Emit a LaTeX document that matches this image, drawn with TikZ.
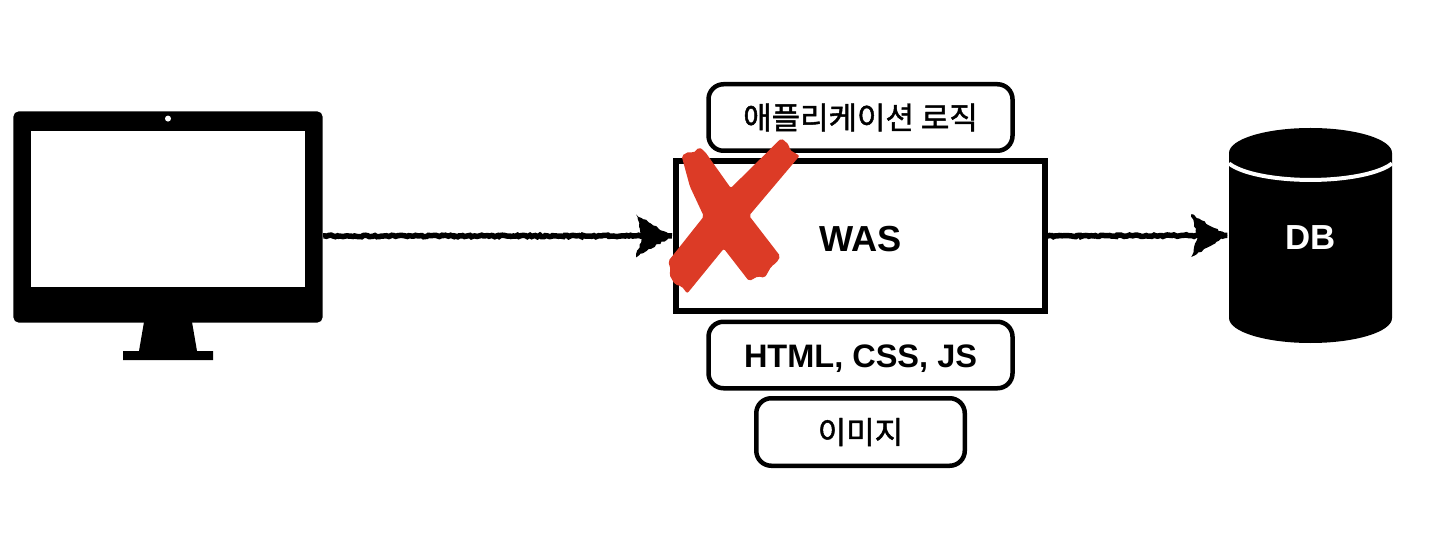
\documentclass[tikz,border=0pt]{standalone}
\usepackage{fontspec}
\setmainfont{Liberation Sans}
\newfontfamily\krfont[FakeBold=1.5]{Noto Sans CJK KR}
\usetikzlibrary{positioning}
\usetikzlibrary{calc}
\usetikzlibrary{decorations.pathmorphing}
\definecolor{red}{RGB}{220,59,38}
\tikzset{
	pill/.style={draw, line width=0.045cm, rounded corners=0.15cm, fill=white, align=center, inner sep=0pt, font=\krfont\fontsize{8.8}{10}\selectfont},
	pilllatin/.style={pill, font=\bfseries\fontsize{9.25}{10}\selectfont},
	roughline/.style={line width=0.055cm, decorate, decoration={random steps, segment length=0.02cm, amplitude=0.008cm}},
	roughhead/.pic={
		\fill[decorate, decoration={random steps, segment length=0.03cm, amplitude=0.01cm}]
			(0,0) -- (-0.36,0.215) -- (-0.30,0) -- (-0.36,-0.215) -- cycle;
	}
}

\begin{document}
\begin{tikzpicture}
	\useasboundingbox (0,0) rectangle (14.30,5.34);
	\pgfmathsetseed{7}

	% Monitor
	\fill (1.44,2.12) -- (1.92,2.12) -- (1.97,1.83) -- (2.13,1.83) -- (2.13,1.74) -- (1.23,1.74) -- (1.23,1.83) -- (1.39,1.83) -- cycle;
	\node[fill=black, rounded corners=0.05cm, minimum width=3.09cm, minimum height=2.11cm, inner sep=0pt] (monitor) at (1.68,3.17) {};
	\node[fill=white, minimum width=2.74cm, minimum height=1.56cm, inner sep=0pt] (screen) at (1.68,3.25) {};
	\node[fill=white, circle, minimum size=0.06cm, inner sep=0pt, above=0.08cm of screen] (camera) {};

	% WAS box
	\node[draw, line width=0.06cm, minimum width=3.685cm, minimum height=1.50cm, inner sep=0pt, text height=0.318cm, text depth=0pt, font=\bfseries\fontsize{10.3}{12}\selectfont] (was) at (8.6025,2.98) {WAS};

	% Parts around WAS
	\node[pill, minimum width=3.04cm, minimum height=0.665cm] (logic) at (8.605,4.165) {애플리케이션 로직};
	\node[pilllatin, minimum width=3.04cm, minimum height=0.665cm, text height=0.254cm, text depth=0pt] (static) at (8.605,1.79) {HTML, CSS, JS};
	\node[pill, minimum width=2.085cm, minimum height=0.675cm, below=0.055cm of static] (image) {이미지};

	% DB
	\fill (12.29,3.81) -- (12.29,2.16) arc[start angle=180, end angle=360, x radius=0.815, y radius=0.25]
		-- (13.92,3.81) arc[start angle=0, end angle=180, x radius=0.815, y radius=0.25] -- cycle;
	\draw[white, line width=0.04cm] (12.29,3.705) arc[start angle=200, end angle=340, x radius=0.867, y radius=0.25];
	\node[text=white, minimum width=1.63cm, minimum height=2.15cm, inner sep=0pt, text height=0.276cm, text depth=0pt, font=\bfseries\fontsize{9.9}{12}\selectfont] (db) at (13.105,2.985) {DB};

	% Arrows
	\coordinate (wastip) at ([xshift=-0.01cm]was.west);
	\coordinate (dbtip) at ([xshift=-0.01cm]db.west);
	\draw[roughline] (monitor.east |- was.west) -- (wastip) pic {roughhead};
	\draw[roughline] (was.east) -- (dbtip) pic {roughhead};

	% Red cross
	\begin{scope}[shift={(6.30,4.64)}, x=0.003333cm, y=-0.003333cm]
		\fill[red, rounded corners=0.02cm] (155,258) -- (178,245) -- (190,250) -- (208,232) -- (225,245) -- (303,355)
			-- (455,205) -- (478,225) -- (480,240) -- (510,258) -- (358,438) -- (452,560) -- (440,580) -- (425,590)
			-- (405,625) -- (385,620) -- (358,635) -- (282,537) -- (172,672) -- (155,650) -- (135,645) -- (118,615)
			-- (122,600) -- (115,575) -- (222,440) -- (180,350) -- cycle;
	\end{scope}
\end{tikzpicture}
\end{document}
